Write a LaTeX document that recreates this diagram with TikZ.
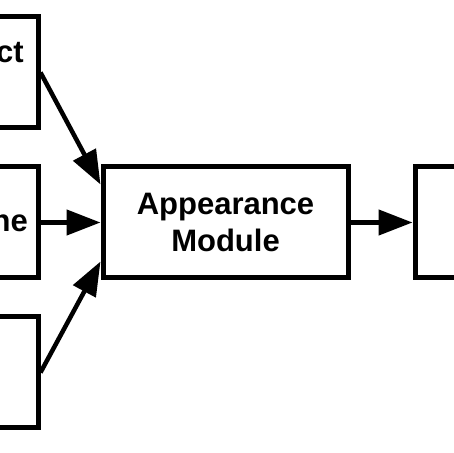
\documentclass[tikz,border=0pt]{standalone}
\usepackage{fontspec}
\setmainfont{Liberation Sans}
\usetikzlibrary{arrows.meta}
\begin{document}
\begin{tikzpicture}[x=1pt,y=1pt,
  box/.style={draw=black,line width=5pt,fill=white,rectangle,inner sep=0pt,minimum height=111pt},
  lbl/.style={font=\fontsize{31}{37}\selectfont\bfseries,inner sep=0pt},
  conn/.style={line width=4.5pt,-{Triangle[length=34pt,width=25pt]}}]
\useasboundingbox (0,0) rectangle (453,453);
\node[box,minimum width=160pt] (A) at (-42,380.5) {};
\node[box,minimum width=160pt] (B) at (-42,230.5) {};
\node[box,minimum width=160pt] (C) at (-42,80.5) {};
\node[box,minimum width=245pt,lbl,align=center] (M) at (225.5,230.5) {Appearance\\Module};
\node[box,minimum width=160pt] (R) at (495,230.5) {};
\node[lbl,anchor=base east] (tA) at (24,390) {ct};
\node[lbl,anchor=base east] (tB) at (28,221) {ne};
\draw[conn] (A.east) -- ([yshift=38pt]M.west);
\draw[conn] (B.east) -- (M.west);
\draw[conn] (C.east) -- ([yshift=-39pt]M.west);
\draw[conn] (M.east) -- (R.west);
\end{tikzpicture}
\end{document}
